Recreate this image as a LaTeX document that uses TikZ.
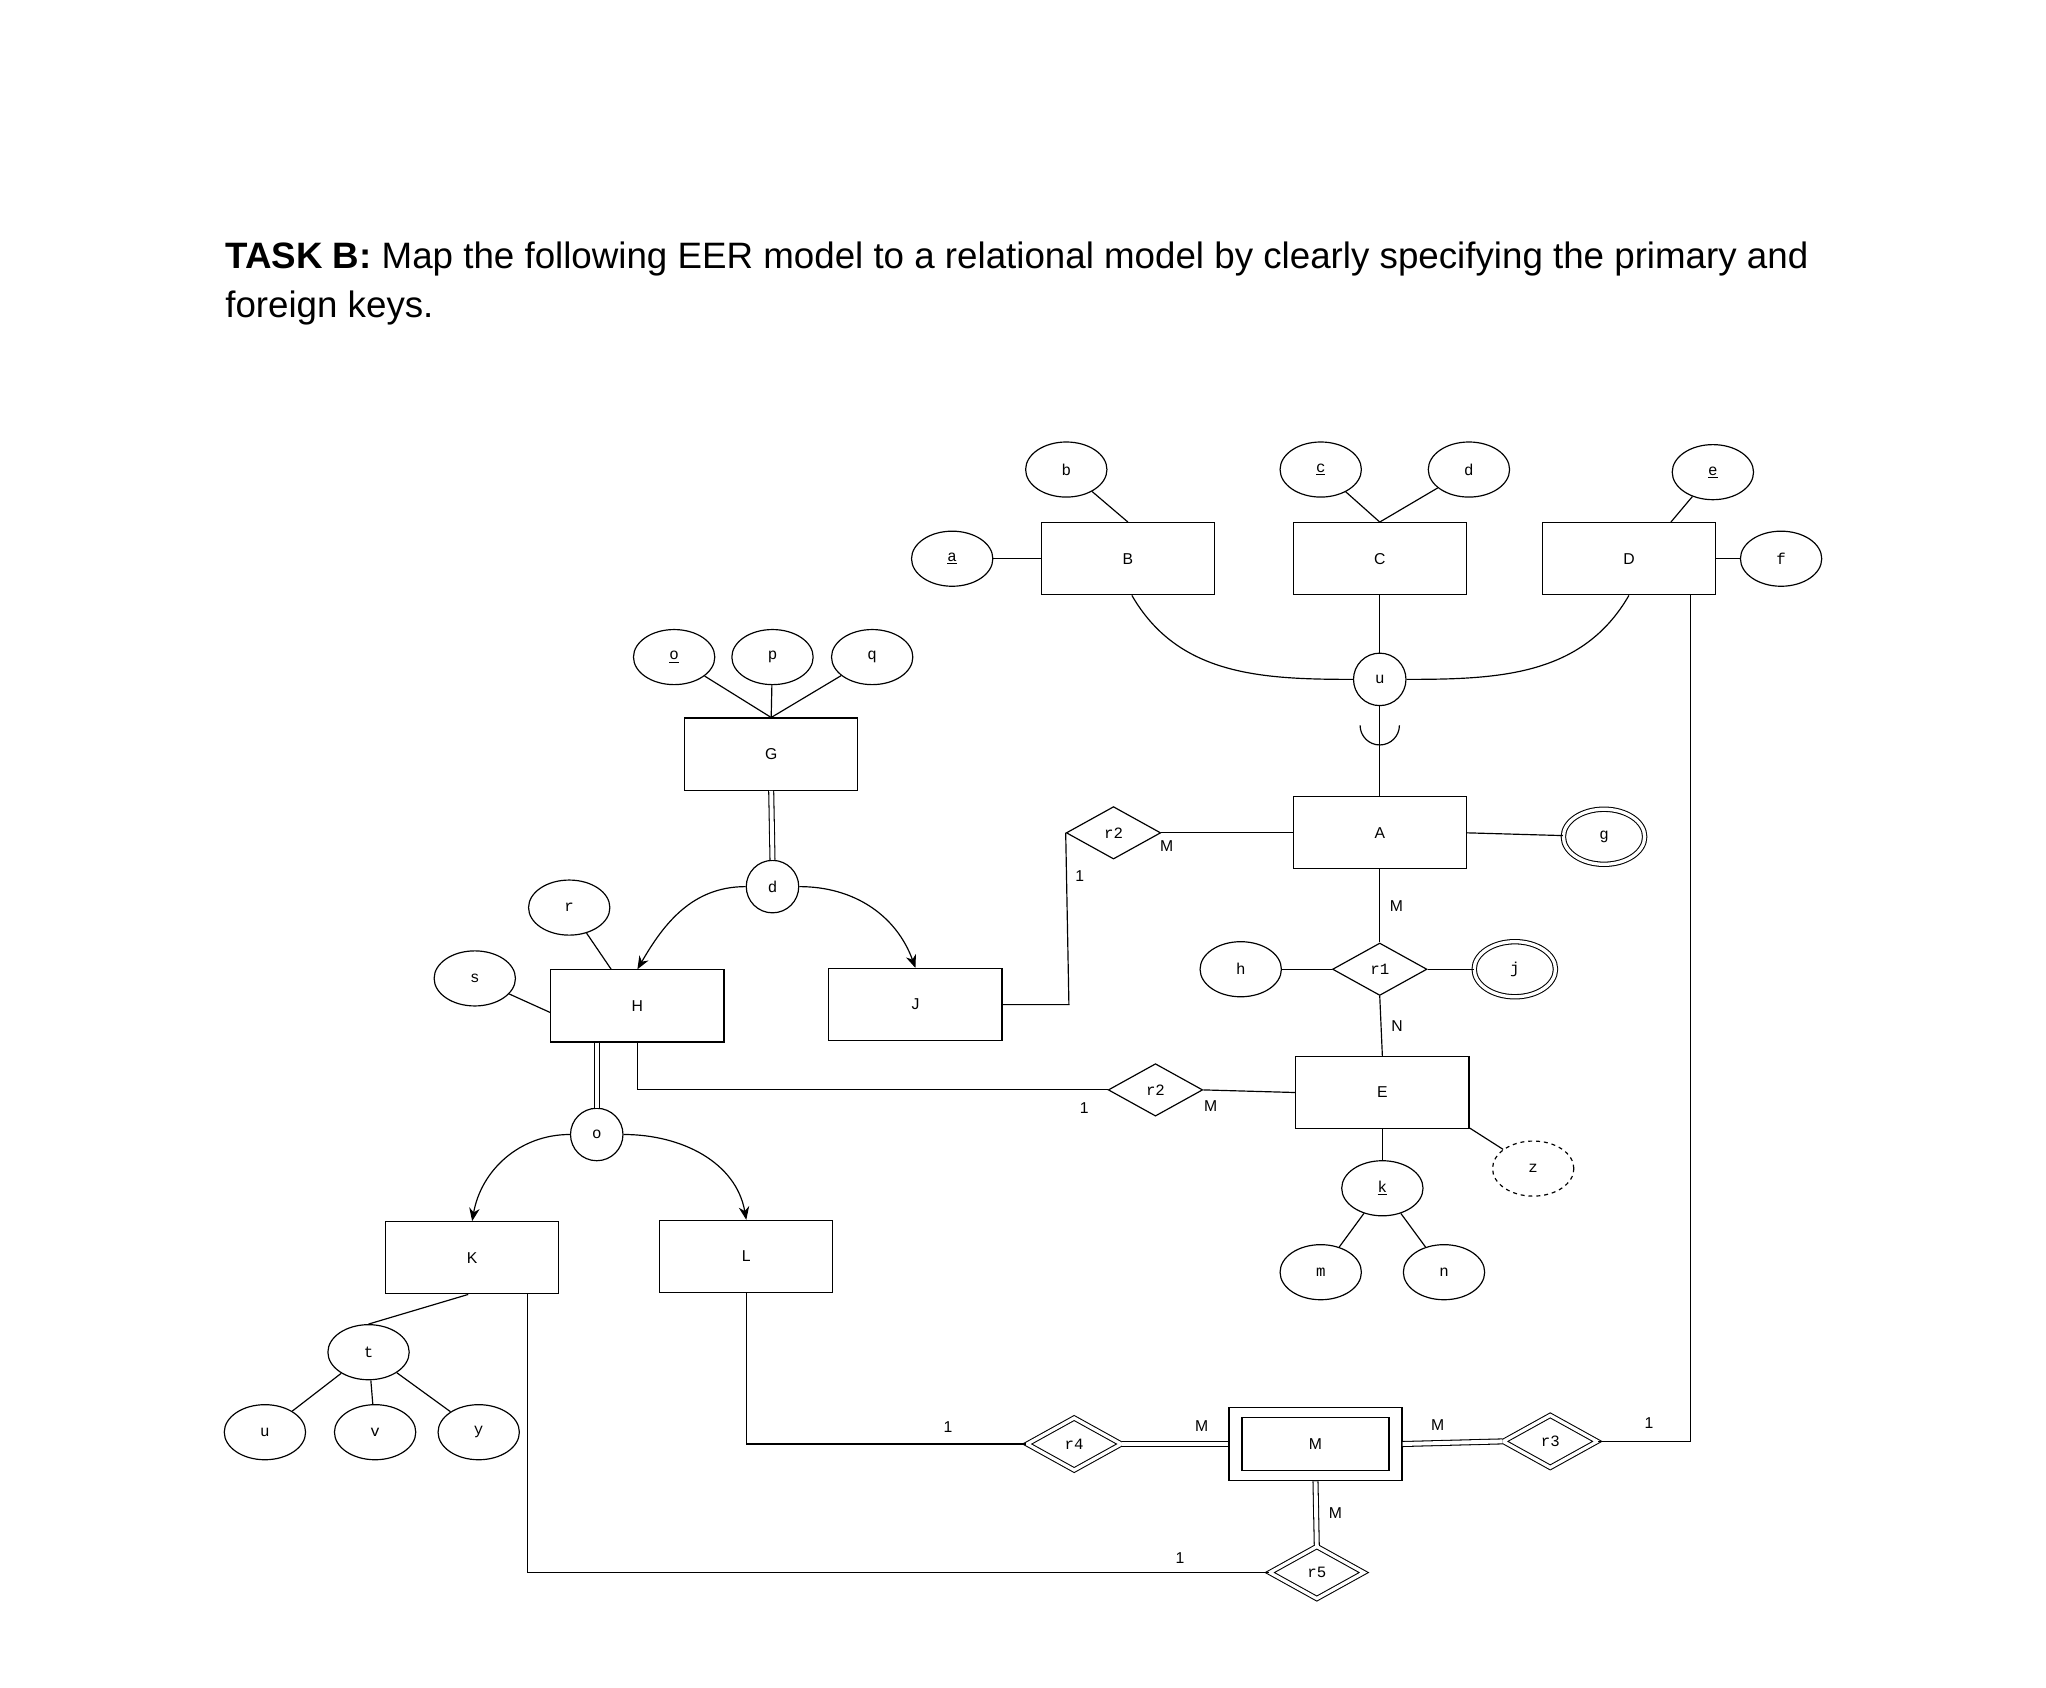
\documentclass[tikz,border=0pt]{standalone}
\usepackage{fontspec}
\setmainfont{Liberation Sans}
\newfontfamily\monof{Liberation Mono}
\usetikzlibrary{shapes.geometric,arrows.meta}
\begin{document}
\begin{tikzpicture}[x=1pt,y=-1pt,line width=0.9pt,
 ent/.style={draw,minimum width=132pt,minimum height=55pt,inner sep=0pt,font=\fontsize{12}{12}\selectfont},
 att/.style={draw,ellipse,minimum width=62pt,minimum height=42pt,inner sep=0pt,font=\monof\fontsize{12}{12}\selectfont},
 circ/.style={draw,circle,minimum size=40pt,inner sep=0pt,font=\monof\fontsize{12}{12}\selectfont},
 rel/.style={draw,diamond,aspect=1.75,minimum width=72pt,minimum height=40pt,inner sep=0pt,font=\monof\fontsize{12}{12}\selectfont},
 wrel/.style={rel,double,double distance=2.5pt,line width=0.8pt},
 lab/.style={font=\fontsize{12}{12}\selectfont},
 dbl/.style={double,double distance=3pt,line width=0.8pt},
 arr/.style={-{Stealth[length=10pt,width=8pt]}}]
\useasboundingbox[fill=white] (0,0) rectangle (1560,1287);
\node[anchor=west,align=left,font=\fontsize{28}{37}\selectfont] (title) at (168,216)
 {\textbf{TASK B:} Map the following EER model to a relational model by clearly specifying the primary and\\foreign keys.};
% entities
\node[ent] (B) at (860,426) {B};
\node[ent] (C) at (1052,426) {C};
\node[ent] (D) at (1242,426) {D};
\node[ent] (G) at (588,575) {G};
\node[ent] (A) at (1052,635) {A};
\node[ent] (H) at (486,767) {H};
\node[ent] (J) at (698,766) {J};
\node[ent] (E) at (1054,833) {E};
\node[ent] (K) at (360,959) {K};
\node[ent] (L) at (569,958) {L};
\node[ent,minimum width=132pt,minimum height=56pt] (Mo) at (1003,1101) {};
\node[ent,minimum width=112pt,minimum height=40pt] (M) at (1003,1101) {M};
% attributes
\node[att] (b) at (813,358) {b};
\node[att] (c) at (1007,358) {\underline{c}};
\node[att] (d) at (1120,358) {d};
\node[att] (e) at (1306,360) {\underline{e}};
\node[att] (a) at (726,426) {\underline{a}};
\node[att] (f) at (1358,426) {f};
\node[att] (o) at (514,501) {\underline{o}};
\node[att] (p) at (589,501) {p};
\node[att] (q) at (665,501) {q};
\node[circ] (u) at (1052,518) {u};
\node[att,double,double distance=2.5pt,line width=0.8pt] (g) at (1223,638) {g};
\node[att] (r) at (434,692) {r};
\node[att] (s) at (362,746) {s};
\node[circ] (dd) at (589,676) {d};
\node[att] (h) at (946,739) {h};
\node[att,double,double distance=2.5pt,line width=0.8pt] (j) at (1155,739) {j};
\node[att,dashed] (z) at (1169,891) {z};
\node[att] (k) at (1054,906) {\underline{k}};
\node[att] (m) at (1007,970) {m};
\node[att] (n) at (1101,970) {n};
\node[circ] (oo) at (455,865) {o};
\node[att] (t) at (281,1031) {t};
\node[att] (uu) at (202,1092) {u};
\node[att] (v) at (286,1092) {v};
\node[att] (y) at (365,1092) {y};
% relationships
\node[rel] (r2a) at (849,635) {r2};
\node[rel] (r1) at (1052,739) {r1};
\node[rel] (r2b) at (881,831) {r2};
\node[wrel] (r4) at (819,1101) {r4};
\node[wrel] (r3) at (1182,1099) {r3};
\node[wrel] (r5) at (1004,1199) {r5};
% attribute links
\draw (b) -- (B.north);
\draw (c) -- (C.north); \draw (d) -- (C.north);
\draw (e) -- ([xshift=32pt]D.north);
\draw (a) -- (B.west); \draw (f) -- (D.east);
\draw (o) -- (G.north); \draw (p) -- (G.north); \draw (q) -- (G.north);
\draw (r) -- ([xshift=-20pt]H.north); \draw (s) -- ([yshift=-5pt]H.west);
\draw (h) -- (r1.west); \draw (r1.east) -- (j);
\draw (A.east) -- (g);
\draw ([yshift=-27pt]E.east) coordinate (Ee) -- (z);
\draw (E.south) -- (k); \draw (k) -- (m); \draw (k) -- (n);
\draw ([xshift=-3pt]K.south) -- (t.north); \draw (t) -- (uu); \draw (t) -- (v); \draw (t) -- (y);
% union u
\draw (C.south) -- (u.north);
\draw ([xshift=3pt]B.south) to[out=-60,in=180] (u.west);
\draw (D.south) to[out=-120,in=0] (u.east);
\draw (u.south) -- (A.north);
\draw (1037,553) arc[start angle=180,end angle=360,radius=15pt];
% specialization d
\draw[dbl] (G.south) -- (dd.north);
\draw[arr] (dd.west) to[out=180,in=60] (H.north);
\draw[arr] (dd.east) to[out=0,in=110] (J.north);
% specialization o
\draw[dbl] ([xshift=-31pt]H.south) -- (oo.north);
\draw[arr] (oo.west) to[out=180,in=80] (K.north);
\draw[arr] (oo.east) to[out=0,in=100] (L.north);
% relationships
\draw (r2a.east) -- (A.west) node[lab,pos=0.04,below=2pt] {M};
\draw (J.east) -- (815,766) -- (r2a.west) node[lab,pos=0.75,right=3pt] {1};
\draw (A.south) -- (r1.north) node[lab,midway,right=4pt] {M};
\draw (r1.south) -- (E.north) node[lab,midway,right=4pt] {N};
\draw (H.south) -- (486,831) -- (r2b.west) node[lab,pos=0.95,below=6pt] {1};
\draw (r2b.east) -- (E.west) node[lab,pos=0.08,below=4pt] {M};
\draw (L.south) -- (569,1101) -- (r4.west) node[lab,pos=0.72,above=5pt] {1};
\draw[dbl] (r4.east) -- (Mo.west) node[lab,pos=0.75,above=6pt] {M};
\draw[dbl] (Mo.east) -- (r3.west) node[lab,pos=0.35,above=6pt] {M};
\draw (r3.east) -- (1289,1099) node[lab,pos=0.55,above=6pt] {1} -- (1289,454);
\draw (K.south) ++(42pt,0) coordinate (Kb) -- (402,1199) -- (r5.west) node[lab,pos=0.88,above=3pt] {1};
\draw[dbl] (Mo.south) -- (r5.north) node[lab,midway,right=6pt] {M};
\end{tikzpicture}
\end{document}
